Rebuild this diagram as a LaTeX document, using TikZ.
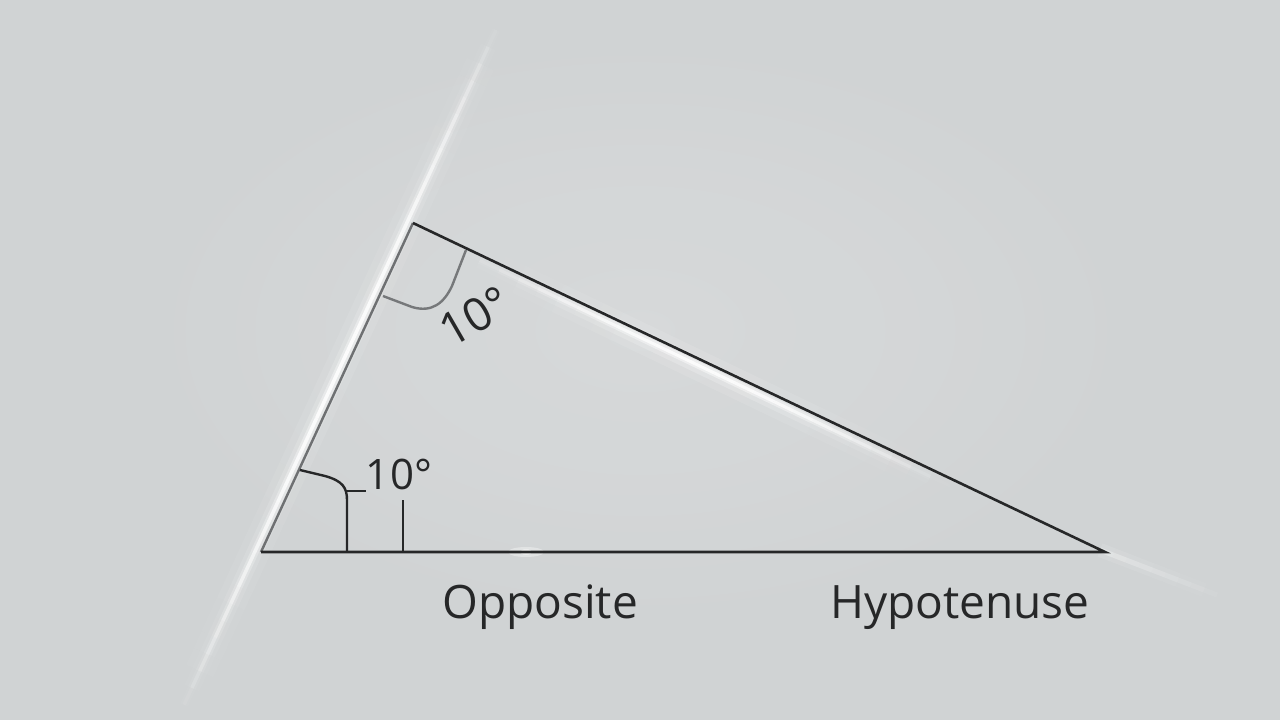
\documentclass[tikz,border=0pt]{standalone}
\usepackage{fontspec}
\setmainfont{Open Sans}
\usetikzlibrary{calc}
\definecolor{bg}{HTML}{D0D3D4}
\definecolor{bgc}{HTML}{D9DBDC}
\definecolor{ink}{HTML}{262728}
\definecolor{edge}{HTML}{6E7072}
\definecolor{arcg}{HTML}{76787A}
\tikzset{
  side/.style={ink, line width=2.6pt, line join=miter},
  lside/.style={edge, line width=2.4pt},
  tick/.style={ink, line width=2.4pt},
  glow/.style={white, line cap=butt},
  lbl/.style={ink, inner sep=0pt, font=\fontsize{46}{50}\selectfont},
  ang/.style={ink, inner sep=0pt, font=\fontsize{42}{46}\selectfont},
}
\begin{document}
\begin{tikzpicture}[x=1pt,y=-1pt]
\useasboundingbox (0,0) rectangle (1280,720);
\fill[bg] (0,0) rectangle (1280,720);
\shade[inner color=bgc, outer color=bg, opacity=0.8] (640,330) ellipse (560 and 330);
% glow streaks (soft, fading at the ends)
\coordinate (g1) at (496,30);
\coordinate (g2) at (184,705);
\foreach \t in {0,0.025,...,0.975}{
  \pgfmathsetmacro{\o}{sin(180*(\t+0.0125))^0.8}
  \foreach \w/\f in {30/0.08,16/0.16,8/0.35,3.5/0.85}{
    \draw[glow, line width=\w pt, opacity=\o*\f] ($(g1)!\t!(g2)$) -- ($(g1)!\t+0.025!(g2)$);
  }
}
\coordinate (h1) at (460,245);
\coordinate (h2) at (950,480);
\foreach \t in {0,0.04,...,0.96}{
  \pgfmathsetmacro{\o}{sin(180*(\t+0.02))^1.2}
  \foreach \w/\f in {30/0.1,16/0.2,7/0.45,3/0.8}{
    \draw[glow, line width=\w pt, opacity=\o*\f] ([yshift=-6pt]$(h1)!\t!(h2)$) -- ([yshift=-6pt]$(h1)!\t+0.04!(h2)$);
  }
}
\coordinate (k1) at (1100,550);
\coordinate (k2) at (1230,600);
\foreach \t in {0,0.1,...,0.9}{
  \pgfmathsetmacro{\o}{1-\t}
  \foreach \w/\f in {14/0.1,5/0.3}{
    \draw[glow, line width=\w pt, opacity=\o*\f] ($(k1)!\t!(k2)$) -- ($(k1)!\t+0.1!(k2)$);
  }
}
\coordinate (sp) at (526,552);
\fill[white, opacity=0.35] (sp) ellipse (18 and 5);
\fill[white, opacity=0.95] (sp) ellipse (6 and 2.5);

% triangle
\coordinate (A) at (261,552);
\coordinate (B) at (413,223);
\coordinate (C) at (1105,552);
\draw[lside] (A) -- (B);
\draw[side] (B) -- (C) -- (A);

% top angle mark
\coordinate (t1) at (383,296);
\coordinate (t2) at (466,250);
\draw[arcg, line width=2.4pt] (t1) -- (412,307) .. controls (432,313) and (444,303) .. (452,286) -- (t2);
\node[ang, rotate=30, font=\fontsize{46}{50}\selectfont] (ta) at (475,316) {10°};

% bottom marks
\coordinate (b1) at (300,470);
\coordinate (b2) at (347,552);
\coordinate (b3) at (403,500);
\coordinate (b4) at (403,552);
\draw[tick] (b1) -- (325,476) .. controls (343,481) and (347,488) .. (347,500) -- (b2);
\node[ang] (ba) at (399,474) {10°};
\draw[ink, line width=1.2pt] (347,491) -- (ba.west |- 0,491);
\draw[tick] (b3) -- (b4);

% labels
\node[lbl] (opp) at (540,607) {Opposite};
\node[lbl] (hyp) at (960,608) {Hypotenuse};
\end{tikzpicture}
\end{document}
